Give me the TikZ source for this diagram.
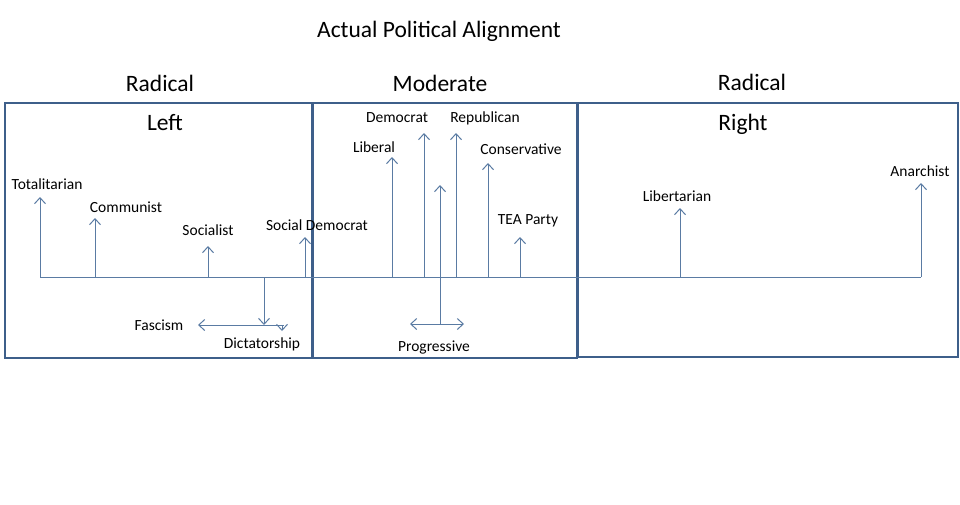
\documentclass[tikz,border=0pt]{standalone}
\usepackage{fontspec}
\setmainfont{Carlito}
\usetikzlibrary{arrows.meta}
\definecolor{ln}{HTML}{5A7BA3}
\definecolor{bx}{HTML}{3E5F8A}
\begin{document}
\begin{tikzpicture}[x=1pt,y=-1pt,
  lab/.style={font=\fontsize{15.5}{18}\selectfont},
  head/.style={font=\fontsize{23.5}{28}\selectfont},
  arr/.style={ln,line width=1pt,-{Straight Barb[length=6pt,width=11pt]}},
  box/.style={bx,line width=2pt}]
\useasboundingbox (0,0) rectangle (960,504);
\fill[white] (0,0) rectangle (960,504);
\draw[box] (5,103) rectangle (312,358);
\draw[box] (578,103) rectangle (958,357);
\draw[box,line width=2.8pt] (313,103) rectangle (577,358);
\coordinate (L) at (40,277); \coordinate (R) at (921,277);
\draw[ln,line width=1pt] (L) -- (R);
\foreach \x/\t in {40/197,95/218,208/246,305/237,392/157,424/133,456/133,488/163,520/237,680/208,921/183}
  \draw[arr] (\x,277) -- (\x,\t);
\coordinate (p0) at (440,324);
\draw[arr] (p0) -- (440,185);
\draw[ln,line width=1pt,{Straight Barb[length=6pt,width=11pt]}-{Straight Barb[length=6pt,width=11pt]}] (410,324) -- (464,324);
\draw[arr] (264,277) -- (264,325);
\draw[ln,line width=1pt,{Straight Barb[length=6pt,width=11pt]}-] (198,325) -- (284,325);
\draw[arr] (282,325) -- (282,331);
\node[head] (t) at (439,31) {Actual Political Alignment};
\node[head] (r1) at (160,83) {Radical};
\node[head] (m) at (440,83) {Moderate};
\node[head] (r2) at (752,82) {Radical};
\node[head] (le) at (165,123) {Left};
\node[head] (ri) at (743,124) {Right};
\node[lab] at (47,184) {Totalitarian};
\node[lab] at (126,207) {Communist};
\node[lab] at (208,230) {Socialist};
\node[lab] at (317,225) {Social Democrat};
\node[lab] at (374,147) {Liberal};
\node[lab] at (397,118) {Democrat};
\node[lab] at (485,118) {Republican};
\node[lab] at (521,149) {Conservative};
\node[lab] at (528,221) {TEA Party};
\node[lab] at (677,196) {Libertarian};
\node[lab] at (920,171) {Anarchist};
\node[lab] at (159,325) {Fascism};
\node[lab] at (262,344) {Dictatorship};
\node[lab] at (434,347) {Progressive};
\end{tikzpicture}
\end{document}
